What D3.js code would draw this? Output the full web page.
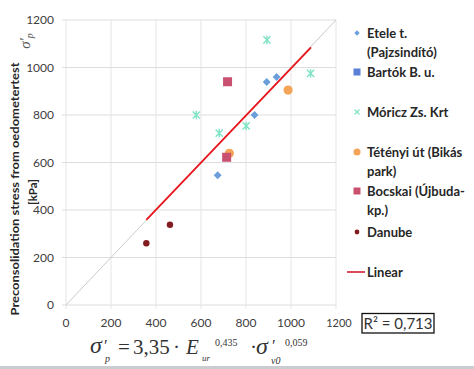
<!DOCTYPE html>
<html><head><meta charset="utf-8">
<script src="https://cdn.jsdelivr.net/npm/d3@7"></script>
<style>
html,body{margin:0;padding:0;background:#fff;}
svg{display:block;}
</style></head>
<body>
<script>
// ---- data ----
const xTicks = [0, 200, 400, 600, 800, 1000, 1200];
const yTicks = [0, 200, 400, 600, 800, 1000, 1200];
const eteleX = [674, 838, 892, 936];
const eteleY = [546, 800, 939, 960];
const bartokX = [];
const bartokY = [];
const moriczX = [893, 1087, 579, 681, 801];
const moriczY = [1116, 975, 800, 724, 754];
const tetenyiX = [987, 726];
const tetenyiY = [905, 639];
const bocskaiX = [718, 714];
const bocskaiY = [940, 622];
const danubeX = [357, 462];
const danubeY = [260, 338];
const linearX = [357, 1089];
const linearY = [358, 1085];
const refX = [0, 1200];
const refY = [0, 1200];
const legendLabels = [["Etele t.", "(Pajzsindító)"], ["Bartók B. u."], ["Móricz Zs. Krt"], ["Tétényi út (Bikás", "park)"], ["Bocskai (Újbuda-", "kp.)"], ["Danube"], ["Linear"]];
const r2Label = "R² = 0,713";

const W = 474, H = 369;
const svg = d3.select("body").append("svg").attr("width", W).attr("height", H);
svg.append("rect").attr("width", W).attr("height", H).attr("fill", "#fff");

const x = d3.scaleLinear().domain([0, 1200]).range([66, 336]);
const y = d3.scaleLinear().domain([0, 1200]).range([305, 20]);

const tickFont = "Lato, 'Open Sans', sans-serif";
// gridlines
const g = svg.append("g");
g.selectAll(".hg").data(yTicks).join("line")
  .attr("x1", x(0) - 4).attr("x2", x(1200))
  .attr("y1", d => y(d)).attr("y2", d => y(d))
  .attr("stroke", "#d9d9d9").attr("stroke-width", 0.9);
g.selectAll(".vg").data(xTicks).join("line")
  .attr("x1", d => x(d)).attr("x2", d => x(d))
  .attr("y1", y(1200)).attr("y2", y(0) + 4)
  .attr("stroke", "#e2e2e2").attr("stroke-width", 0.9);

// tick labels
svg.selectAll(".yl").data(yTicks).join("text")
  .attr("x", 54).attr("y", d => y(d)).attr("dy", "0.35em")
  .attr("text-anchor", "end").attr("font-family", tickFont)
  .attr("font-size", 12).attr("fill", "#404040").text(d => d);
svg.selectAll(".xl").data(xTicks).join("text")
  .attr("x", d => d === 1200 ? x(d) + 3 : x(d)).attr("y", 327)
  .attr("text-anchor", "middle").attr("font-family", tickFont)
  .attr("font-size", d => d === 1200 ? 11 : 12).attr("fill", "#404040").text(d => d);

// reference 1:1 line
const line = d3.line().x(d => x(d[0])).y(d => y(d[1]));
svg.append("path").attr("d", line(d3.zip(refX, refY)))
  .attr("stroke", "#c4c4c4").attr("stroke-width", 0.9).attr("fill", "none");

// points
const pts = (xs, ys) => d3.zip(xs, ys);
const colors = {etele: "#6b9fdc", bartok: "#5b7fd6", moricz: "#7fe3c6", tetenyi: "#f3a458", bocskai: "#c9506f", danube: "#821c1f", linear: "#e8141b"};

svg.selectAll(".et").data(pts(eteleX, eteleY)).join("path")
  .attr("transform", d => `translate(${x(d[0])},${y(d[1])})`)
  .attr("d", d3.symbol(d3.symbolDiamond2, 40)()).attr("fill", colors.etele);
svg.selectAll(".ba").data(pts(bartokX, bartokY)).join("rect")
  .attr("x", d => x(d[0]) - 4.5).attr("y", d => y(d[1]) - 4.5)
  .attr("width", 9).attr("height", 9).attr("fill", colors.bartok);
const star = "M-3.6,-3.6L3.6,3.6M-3.6,3.6L3.6,-3.6M0,-4.2L0,4.2";
svg.selectAll(".mo").data(pts(moriczX, moriczY)).join("path")
  .attr("transform", d => `translate(${x(d[0])},${y(d[1])})`)
  .attr("d", star).attr("stroke", colors.moricz).attr("stroke-width", 1.4).attr("fill", "none");
svg.selectAll(".te").data(pts(tetenyiX, tetenyiY)).join("circle")
  .attr("cx", d => x(d[0])).attr("cy", d => y(d[1])).attr("r", 4.6).attr("fill", colors.tetenyi);
svg.selectAll(".bo").data(pts(bocskaiX, bocskaiY)).join("rect")
  .attr("x", d => x(d[0]) - 4.5).attr("y", d => y(d[1]) - 4.5)
  .attr("width", 9).attr("height", 9).attr("fill", colors.bocskai);
svg.selectAll(".da").data(pts(danubeX, danubeY)).join("circle")
  .attr("cx", d => x(d[0])).attr("cy", d => y(d[1])).attr("r", 3.2).attr("fill", colors.danube);

// linear trend
svg.append("path").attr("d", line(d3.zip(linearX, linearY)))
  .attr("stroke", colors.linear).attr("stroke-width", 1.8).attr("fill", "none");

// y-axis title
const yt = svg.append("g").attr("font-family", tickFont).attr("font-weight", "bold").attr("fill", "#262626");
yt.append("text").attr("transform", "translate(19,189) rotate(-90)")
  .attr("text-anchor", "middle").attr("font-size", 11.5)
  .attr("textLength", 253).attr("lengthAdjust", "spacingAndGlyphs")
  .text("Preconsolidation stress from oedometertest");
yt.append("text").attr("transform", "translate(37,192) rotate(-90)")
  .attr("text-anchor", "middle").attr("font-size", 11.5).text("[kPa]");
const sg = svg.append("text").attr("transform", "translate(30,41) rotate(-90)")
  .attr("text-anchor", "middle").attr("font-family", "'Liberation Serif', serif")
  .attr("font-style", "italic").attr("font-size", 15).attr("fill", "#555");
sg.append("tspan").text("σ′");
sg.append("tspan").attr("font-size", 10).attr("dy", 3).text("p");

// legend
const legY = [33, 72, 112, 152, 191, 232, 272];
const lg = svg.append("g").attr("font-family", tickFont).attr("font-weight", "bold").attr("font-size", 13).attr("fill", "#262626");
legendLabels.forEach((lines, i) => {
  lines.forEach((t, j) => {
    lg.append("text").attr("x", 367).attr("y", legY[i] + j * 19.5).attr("dy", "0.35em").text(t);
  });
});
const mx = 357;
lg.append("path").attr("transform", `translate(${mx},${legY[0]})`).attr("d", d3.symbol(d3.symbolDiamond2, 18)()).attr("fill", colors.etele);
lg.append("rect").attr("x", mx - 3.5).attr("y", legY[1] - 3.5).attr("width", 7).attr("height", 7).attr("fill", colors.bartok);
lg.append("path").attr("transform", `translate(${mx},${legY[2]})`).attr("d", "M-2.5,-2.5L2.5,2.5M-2.5,2.5L2.5,-2.5").attr("stroke", colors.moricz).attr("stroke-width", 1.2);
lg.append("circle").attr("cx", mx).attr("cy", legY[3]).attr("r", 3.5).attr("fill", colors.tetenyi);
lg.append("rect").attr("x", mx - 3.5).attr("y", legY[4] - 3.5).attr("width", 7).attr("height", 7).attr("fill", colors.bocskai);
lg.append("circle").attr("cx", mx).attr("cy", legY[5]).attr("r", 2.4).attr("fill", colors.danube);
lg.append("line").attr("x1", 347).attr("x2", 365).attr("y1", legY[6]).attr("y2", legY[6]).attr("stroke", "#d8374a").attr("stroke-width", 1.8);

// R^2 box
svg.append("rect").attr("x", 362).attr("y", 313.5).attr("width", 72).attr("height", 19.5)
  .attr("fill", "#fff").attr("stroke", "#111").attr("stroke-width", 1.3);
svg.append("text").attr("x", 398).attr("y", 323.5).attr("dy", "0.36em").attr("text-anchor", "middle")
  .attr("font-family", tickFont).attr("font-size", 15).attr("fill", "#333").text(r2Label);

// formula
const ff = "'Liberation Serif', 'DejaVu Serif', serif";
const fg = svg.append("g").attr("font-family", ff).attr("fill", "#333");
const piece = (px, py, t, size, italic) => fg.append("text").attr("x", px).attr("y", py)
  .attr("font-size", size).attr("font-style", italic ? "italic" : "normal").text(t);
piece(90, 353, "σ", 24, true);
piece(104, 351, "′", 17, false);
piece(105, 362, "p", 10, true);
piece(118, 354, "=", 21, false);
piece(133, 354, "3,35", 21, false);
piece(173, 354, "·", 21, false);
piece(186, 354, "E", 21, true);
piece(202, 361, "ur", 9, true);
piece(215, 346, "0,435", 10, false);
piece(250, 354, "·", 21, false);
piece(256, 354, "σ", 24, true);
piece(272, 351, "′", 17, false);
piece(271, 364, "v0", 10, true);
piece(285, 346, "0,059", 10, false);

// bottom band
svg.append("rect").attr("x", 0).attr("y", 366).attr("width", W).attr("height", 3).attr("fill", "#c9cdd1");
</script>
</body></html>
